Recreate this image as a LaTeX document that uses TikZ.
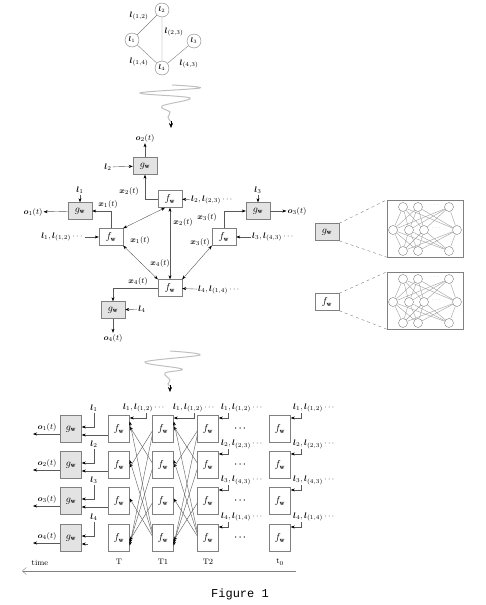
\documentclass[tikz,border=0pt]{standalone}
\usepackage{fontspec}
\setmonofont{Liberation Mono}
\usepackage{amsmath}
\usepackage{bm}
\usetikzlibrary{positioning,calc,arrows.meta}
\tikzstyle{fbox} = [draw=gray, fill=white, rectangle, minimum height=17pt, minimum width=24pt, inner sep=0pt, font=\normalsize]
\tikzstyle{gbox} = [fbox, fill=gray!22]
\tikzstyle{ubox} = [fbox, minimum height=27pt, minimum width=21pt]
\tikzstyle{ugbox} = [ubox, fill=gray!22]
\tikzstyle{lab} = [inner sep=1pt, font=\footnotesize]
\tikzstyle{conn} = [draw=gray!70!black, -{Stealth[black,length=4pt,width=3pt]}]
\tikzstyle{bconn} = [conn, {Stealth[black,length=4pt,width=3pt]}-{Stealth[black,length=4pt,width=3pt]}]
\tikzstyle{neuron} = [draw=gray, fill=white, circle, minimum size=9pt, inner sep=0pt]
\tikzstyle{state} = [draw=gray, fill=white, circle, minimum size=14pt, inner sep=0pt, font=\scriptsize]
\tikzstyle{squiggle} = [draw=gray!50, line width=1pt]
\newcommand{\myfw}{$f_{\mathbf{w}}$}
\newcommand{\mygw}{$g_{\mathbf{w}}$}
\newcommand{\myl}[1]{\bm{l}_{#1}}

\begin{document}
\begin{tikzpicture}[x=1pt, y=-1pt]
        \useasboundingbox (0,0) rectangle (486,605);

        % the graph
        \node [state] (s2) at (162,10) {$\myl{2}$};
        \node [state] (s1) at (132,40) {$\myl{1}$};
        \node [state] (s3) at (194,41) {$\myl{3}$};
        \node [state] (s4) at (162,68) {$\myl{4}$};
        \draw [gray] (s1) -- (s2) (s2) -- (s4) (s1) -- (s4) (s4) -- (s3);
        \node [lab] (e12) at (139,16) {$\myl{(1,2)}$};
        \node [lab] (e23) at (174,32) {$\myl{(2,3)}$};
        \node [lab] (e14) at (139,62) {$\myl{(1,4)}$};
        \node [lab] (e43) at (189,64) {$\myl{(4,3)}$};

        \draw [squiggle] plot [smooth, tension=0.6] coordinates {(172,85) (200,88) (140,93) (190,98) (162,106) (170,112) (168,117) (171,122)};
        \draw [-{Stealth[black,length=5pt,width=4pt]}] (171,121) -- (171,128);

        % the encoding network
        \node [gbox] (g2) at (145,166) {\mygw};
        \node [fbox] (f2) at (170,199) {\myfw};
        \node [gbox] (g1) at (80,211) {\mygw};
        \node [gbox] (g3) at (258,211) {\mygw};
        \node [fbox] (f1) at (111,237) {\myfw};
        \node [fbox] (f3) at (224,237) {\myfw};
        \node [fbox] (f4) at (170,288) {\myfw};
        \node [gbox] (g4) at (113,310) {\mygw};

        \node [lab] (o2) at (145,138) {$\bm{o}_2(t)$};
        \node [lab] (o1) at (33,212) {$\bm{o}_1(t)$};
        \node [lab] (o3) at (297,211) {$\bm{o}_3(t)$};
        \node [lab] (o4) at (113,338) {$\bm{o}_4(t)$};
        \node [lab] (i2) at (108,167) {$\myl{2}$};
        \node [lab] (i1) at (80,190) {$\myl{1}$};
        \node [lab] (i3) at (258,190) {$\myl{3}$};
        \node [lab] (i4) at (142,309) {$\myl{4}$};
        \node [lab, anchor=west] (in2) at (190,200) {$\myl{2},\myl{(2,3)}\cdots$};
        \node [lab, anchor=east] (in1) at (85,237) {$\myl{1},\myl{(1,2)}\cdots$};
        \node [lab, anchor=west] (in3) at (251,237) {$\myl{3},\myl{(4,3)}\cdots$};
        \node [lab, anchor=west] (in4) at (197,290) {$\myl{4},\myl{(1,4)}\cdots$};

        \draw [conn] (g2) -- (o2);
        \draw [conn] (g1) -- (o1);
        \draw [conn] (g3) -- (o3);
        \draw [conn] (g4) -- (o4);
        \draw [conn] (i2) -- (g2);
        \draw [conn] (i1) -- (g1);
        \draw [conn] (i3) -- (g3);
        \draw [conn] (i4) -- (g4);
        \draw [conn] (in2) -- (f2);
        \draw [conn] (in1) -- (f1);
        \draw [conn] (in3) -- (f3);
        \draw [conn] (in4) -- (f4);

        \draw [conn] (f2.west) -| (g2.south);
        \draw [conn] (f1.north) |- (g1.east);
        \draw [conn] (f3.north) |- (g3.west);
        \draw [conn] (f4.west) -| (g4.north);
        \node [lab] (x2a) at (129,191) {$\bm{x}_2(t)$};
        \node [lab] (x1a) at (108,204) {$\bm{x}_1(t)$};
        \node [lab] (x3a) at (207,217) {$\bm{x}_3(t)$};
        \node [lab] (x4a) at (138,281) {$\bm{x}_4(t)$};

        \draw [bconn] (f1.north east) -- ([xshift=-5pt]f2.south);
        \draw [bconn] (f2.south) -- (f4.north);
        \draw [bconn] (f1.south east) -- (f4.north west);
        \draw [bconn] (f3.south west) -- (f4.north east);
        \node [lab] (x2b) at (183,222) {$\bm{x}_2(t)$};
        \node [lab] (x1b) at (140,240) {$\bm{x}_1(t)$};
        \node [lab] (x4b) at (160,263) {$\bm{x}_4(t)$};
        \node [lab] (x3b) at (200,242) {$\bm{x}_3(t)$};

        % the units
        \node [gbox] (gz) at (327,232) {\mygw};
        \node [fbox] (fz) at (327,302) {\myfw};
        \node [draw=gray, minimum width=76pt, minimum height=57pt, inner sep=0pt] (nng) at (425,228.5) {};
        \node [draw=gray, minimum width=76pt, minimum height=57pt, inner sep=0pt] (nnf) at (425,300.5) {};
        \draw [gray, dashed] (gz.north east) -- (nng.north west) (gz.south east) -- (nng.south west);
        \draw [gray, dashed] (fz.north east) -- (nnf.north west) (fz.south east) -- (nnf.south west);
        \foreach \b/\dy in {g/0,f/72} {
            \foreach \k/\x in {1/403,2/418,3/449} {
                \node [neuron] (\b t\k) at (\x,207+\dy) {};
                \node [neuron] (\b b\k) at (\x,251+\dy) {};
            }
            \foreach \k/\x in {1/393,2/409,3/424,4/457}
                \node [neuron] (\b m\k) at (\x,230+\dy) {};
            \foreach \p in {1,2,3}
                \foreach \q in {1,...,4}
                    \draw [gray!75] (\b t\p) -- (\b m\q) (\b m\q) -- (\b b\p);
            \node [font=\tiny, text=gray] (\b d1) at (435,205+\dy) {$\cdots$};
            \node [font=\tiny, text=gray] (\b d2) at (437,228+\dy) {$\cdots$};
        }

        \draw [squiggle] plot [smooth, tension=0.6] coordinates {(170,351) (200,355) (145,362) (182,369) (165,373) (170,380) (168,384) (170,386)};
        \draw [-{Stealth[black,length=5pt,width=4pt]}] (170,385) -- (170,392);

        % the unfolded network
        \foreach \r/\y in {1/429,2/465,3/501,4/538} {
            \node [ugbox] (ug\r) at (71,\y) {\mygw};
            \node [ubox, right of=ug\r, node distance=48pt] (ta\r) {\myfw};
            \node [ubox, right of=ta\r, node distance=44pt] (tb\r) {\myfw};
            \node [ubox, right of=tb\r, node distance=45pt] (tc\r) {\myfw};
            \node [ubox, right of=tc\r, node distance=72pt] (tz\r) {\myfw};
            \node [lab] (uo\r) at (47,\y-2) {$\bm{o}_\r(t)$};
            \coordinate (uoe\r) at (33,\y+5);
            \draw [conn] ([yshift=-5pt]ug\r.west) -- (uoe\r);
            \node [lab] (ul\r) at (94,\y-21) {$\myl{\r}$};
            \draw [conn] (ul\r.south) |- ([yshift=2pt]ug\r.east);
            \node [lab] (dots\r) at (241,\y) {$\bm{\cdots}$};
            \coordinate (cb\r) at (228,\y-16);
            \coordinate (zb\r) at (301,\y-16);
            \draw [conn] (cb\r) |- ([yshift=11pt]tc\r.east);
            \draw [conn] (zb\r) |- ([yshift=11pt]tz\r.east);
        }
        \foreach \r in {1,2,3}
            \draw [conn] ([yshift=-6pt]ta\r.west) -- ([yshift=-6pt]ug\r.east);
        \draw [conn] ([yshift=-6pt,xshift=6pt]ug4.east) -- ([yshift=-6pt]ug4.east);

        \foreach \k/\lab in {1/{(1,2)},2/{(2,3)},3/{(4,3)},4/{(1,4)}} {
            \node [lab, anchor=west] (cl\k) at (220,{429+(\k-1)*36.3-21}) {$\myl{\k},\myl{\lab}\cdots$};
            \node [lab, anchor=west] (zl\k) at (292,{429+(\k-1)*36.3-21}) {$\myl{\k},\myl{\lab}\cdots$};
        }
        \node [lab, anchor=west] (al) at (122,408) {$\myl{1},\myl{(1,2)}\cdots$};
        \node [lab, anchor=west] (bl) at (172,408) {$\myl{1},\myl{(1,2)}\cdots$};
        \coordinate (ab) at (146,413);
        \coordinate (bb) at (194,413);
        \draw [conn] (ab) |- ([yshift=11pt]ta1.east);
        \draw [conn] (bb) |- ([yshift=11pt]tb1.east);

        \foreach \i/\j in {1/2,1/4,2/1,2/4,3/4,4/1,4/2,4/3} {
            \draw [conn] ([yshift={(\j-\i)*2pt}]tb\j.west) -- ([yshift={(\j-\i)*2.5pt}]ta\i.east);
            \draw [conn] ([yshift={(\j-\i)*2pt}]tc\j.west) -- ([yshift={(\j-\i)*2.5pt}]tb\i.east);
        }

        \coordinate (tl) at (22,571);
        \coordinate (tr) at (296,571);
        \draw [gray, {Straight Barb[length=4pt,width=7pt]}-] (tl) -- (tr);
        \node [font=\footnotesize] (time) at (40,563) {time};
        \node [font=\footnotesize] (cT) at (119,562) {T};
        \node [font=\footnotesize] (cT1) at (163,562) {T1};
        \node [font=\footnotesize] (cT2) at (208,562) {T2};
        \node [font=\footnotesize] (ct0) at (280,562) {t$_0$};

        \node [font=\ttfamily\fontsize{12}{14}\selectfont] (cap) at (240,594) {Figure 1};
\end{tikzpicture}
\end{document}
